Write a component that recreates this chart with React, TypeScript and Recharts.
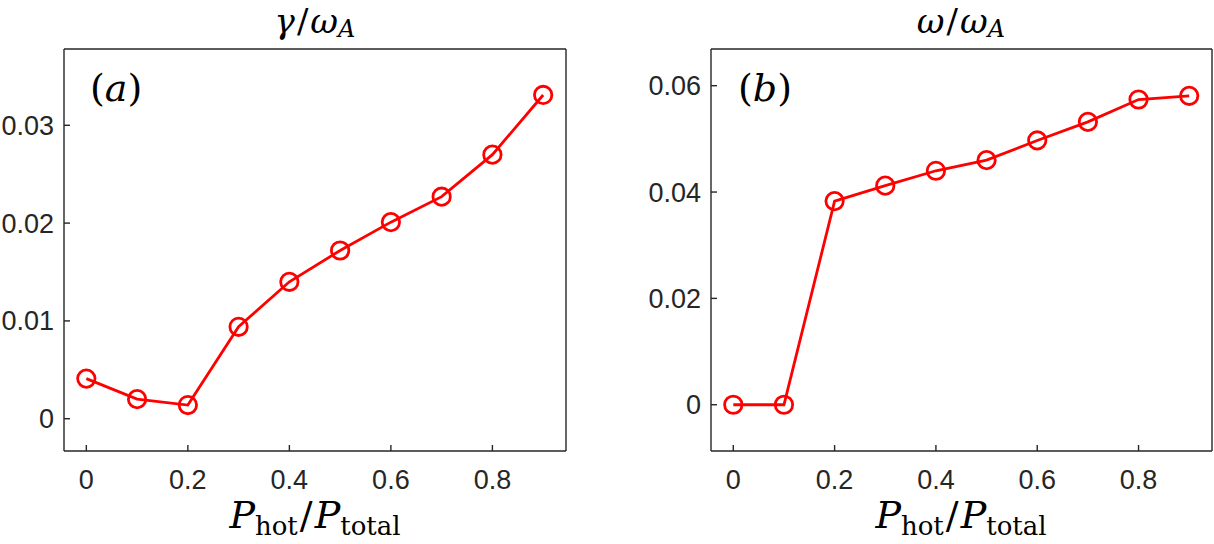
import { LineChart, Line, XAxis, YAxis } from "recharts"

const pHot = [0, 0.1, 0.2, 0.3, 0.4, 0.5, 0.6, 0.7, 0.8, 0.9]
const gamma = [0.0041, 0.0020, 0.0014, 0.0094, 0.0140, 0.0172, 0.0201, 0.0227, 0.0270, 0.0331]
const omega = [0, 0, 0.0383, 0.0412, 0.0440, 0.0460, 0.0497, 0.0532, 0.0574, 0.0581]

const xTicks = [0, 0.2, 0.4, 0.6, 0.8]
const gammaTicks = [0, 0.01, 0.02, 0.03]
const omegaTicks = [0, 0.02, 0.04, 0.06]

const ink = "#262626"
const red = "#ff0000"
const tickFont = { fontFamily: "'Liberation Sans', Arial, sans-serif", fontSize: 27, fill: ink }
const axisLine = { stroke: ink, strokeWidth: 1.4 }

type PanelProps = {
  left: number
  width: number
  yWidth: number
  marginRight: number
  values: number[]
  yDomain: [number, number]
  yTicks: number[]
}

function Panel({ left, width, yWidth, marginRight, values, yDomain, yTicks }: PanelProps) {
  const data = pHot.map((x, i) => ({ x, y: values[i] }))
  return (
    <div style={{ position: "absolute", left, top: 0 }}>
      <LineChart
        width={width}
        height={544}
        data={data}
        margin={{ top: 48, right: marginRight, bottom: 0, left: 0 }}
      >
        <XAxis
          xAxisId="b"
          dataKey="x"
          type="number"
          domain={[-0.044, 0.945]}
          allowDataOverflow
          ticks={xTicks}
          height={93}
          tickSize={-6}
          tickMargin={25}
          axisLine={axisLine}
          tickLine={axisLine}
          tick={tickFont}
        />
        <XAxis
          xAxisId="t"
          dataKey="x"
          type="number"
          orientation="top"
          domain={[-0.044, 0.945]}
          allowDataOverflow
          ticks={xTicks}
          height={1}
          tickSize={-6}
          axisLine={axisLine}
          tickLine={axisLine}
          tick={false}
        />
        <YAxis
          yAxisId="l"
          type="number"
          domain={yDomain}
          allowDataOverflow
          ticks={yTicks}
          width={yWidth}
          tickSize={-6}
          tickMargin={16}
          axisLine={axisLine}
          tickLine={axisLine}
          tick={tickFont}
        />
        <YAxis
          yAxisId="r"
          type="number"
          orientation="right"
          domain={yDomain}
          allowDataOverflow
          ticks={yTicks}
          width={1}
          tickSize={-6}
          axisLine={axisLine}
          tickLine={axisLine}
          tick={false}
        />
        <Line
          xAxisId="b"
          yAxisId="l"
          type="linear"
          dataKey="y"
          stroke={red}
          strokeWidth={2.8}
          dot={{ r: 8.7, fill: "none", stroke: red, strokeWidth: 2.8 }}
          isAnimationActive={false}
        />
      </LineChart>
    </div>
  )
}

const serif = "'DejaVu Serif', 'Liberation Serif', serif"

function Labels() {
  const panels = [
    { cx: 315, num: "γ", tag: "a", tagX: 90 },
    { cx: 961, num: "ω", tag: "b", tagX: 738 },
  ]
  return (
    <svg
      width={1214}
      height={544}
      style={{ position: "absolute", left: 0, top: 0, pointerEvents: "none" }}
    >
      {panels.map((p) => (
        <g key={p.tag} fontFamily={serif} fill="#000">
          {/* title */}
          <text x={p.cx} y={33} textAnchor="middle" fontSize={34}>
            <tspan fontStyle="italic">{p.num}</tspan>
            <tspan dx={2}>/</tspan>
            <tspan dx={2} fontStyle="italic">ω</tspan>
            <tspan fontStyle="italic" fontSize={24} dy={4}>A</tspan>
          </text>
          {/* panel tag */}
          <text x={p.tagX} y={101} fontSize={38}>
            <tspan>(</tspan>
            <tspan fontStyle="italic">{p.tag}</tspan>
            <tspan>)</tspan>
          </text>
          {/* x label */}
          <text x={p.cx} y={528} textAnchor="middle" fontSize={38}>
            <tspan fontStyle="italic">P</tspan>
            <tspan fontSize={26} dy={7}>hot</tspan>
            <tspan dy={-7} dx={2}>/</tspan>
            <tspan dx={2} fontStyle="italic">P</tspan>
            <tspan fontSize={26} dy={7}>total</tspan>
          </text>
        </g>
      ))}
    </svg>
  )
}

export default function App() {
  return (
    <div style={{ position: "absolute", left: 0, top: 0, width: 1214, height: 544, background: "#fff" }}>
      <Panel
        left={0}
        width={600}
        yWidth={64}
        marginRight={33}
        values={gamma}
        yDomain={[-0.0033, 0.0378]}
        yTicks={gammaTicks}
      />
      <Panel
        left={600}
        width={614}
        yWidth={111}
        marginRight={1}
        values={omega}
        yDomain={[-0.0087, 0.0669]}
        yTicks={omegaTicks}
      />
      <Labels />
    </div>
  )
}
